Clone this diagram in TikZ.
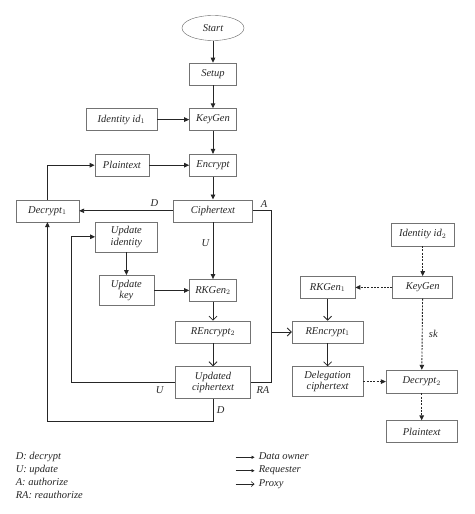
\documentclass[tikz,border=0pt]{standalone}
\usepackage{fontspec}
\setmainfont{Liberation Serif}
\usepackage{xcolor}
\usetikzlibrary{shapes.geometric, positioning, arrows.meta}

\begin{document}
\begin{tikzpicture}[
    node distance=22pt and 32pt,
    every node/.style={font=\fontsize{10.5}{11.5}\selectfont\itshape, text=black!85},
    term/.style={ellipse, draw=black!60, minimum width=62pt, minimum height=25pt, inner sep=1pt},
    block/.style={rectangle, draw=black!55, line width=0.6pt, align=center, minimum width=47pt, minimum height=22pt, inner sep=2pt},
    keyitem/.style={inner sep=0pt, text height=7pt, text depth=3pt, anchor=north west},
    owner/.style={-{Triangle[length=5pt, width=4.5pt]}, line width=0.9pt, black!85},
    requester/.style={-{Triangle[length=5pt, width=4.5pt]}, line width=0.9pt, black!85, dash pattern=on 2pt off 1.3pt},
    proxy/.style={-{Straight Barb[length=4pt, width=8pt]}, line width=0.8pt, black!85},
    plain/.style={line width=0.8pt, black!85}
]
\useasboundingbox (-213pt,28pt) rectangle (261pt,-486pt);

% data owner column
\node[term] (start) {Start};
\node[block, below=22pt of start] (setup) {Setup};
\node[block, below=23pt of setup] (keygen) {KeyGen};
\node[block, left=32pt of keygen, minimum width=71pt] (idone) {Identity id$_1$};
\node[block, below=23pt of keygen] (encrypt) {Encrypt};
\node[block, left=40pt of encrypt, minimum width=54pt] (plainone) {Plaintext};
\node[block, below=23pt of encrypt, minimum width=79pt] (cipher) {Ciphertext};
\node[block, left=94pt of cipher, minimum width=63pt] (decone) {Decrypt$_1$};
\node[block, below=57pt of cipher] (rkgentwo) {RKGen$_2$};
\node[block, left=35pt of rkgentwo, minimum width=55pt, minimum height=30pt] (updkey) {Update\\key};
\node[block, above=23pt of updkey, minimum width=62pt, minimum height=30pt] (updid) {Update\\identity};
\node[block, below=19pt of rkgentwo, minimum width=75pt] (rencrtwo) {REncrypt$_2$};
\node[block, below=23pt of rencrtwo, minimum width=75pt, minimum height=32pt] (updcipher) {Updated\\ciphertext};

% requester and proxy side
\node[block, right=41pt of rencrtwo, minimum width=71pt] (rencrone) {REncrypt$_1$};
\node[block, below=23pt of rencrone, minimum width=71pt, minimum height=30pt] (delcipher) {Delegation\\ciphertext};
\node[block, above=22pt of rencrone, minimum width=55pt] (rkgenone) {RKGen$_1$};
\node[block, right=37pt of rkgenone, minimum width=60pt] (keygentwo) {KeyGen};
\node[block, above=30pt of keygentwo, minimum width=63pt, minimum height=23pt] (idtwo) {Identity id$_2$};
\node[block, right=22.5pt of delcipher, minimum width=71pt, minimum height=23pt] (dectwo) {Decrypt$_2$};
\node[block, below=27pt of dectwo, minimum width=71pt] (plaintwo) {Plaintext};
\coordinate[left=20pt of rencrone.west] (joint);

% legend
\node[align=left, inner sep=0pt, below=230pt of decone.south west, anchor=north west,
      font=\fontsize{10.5}{13}\selectfont\itshape] (keytext)
      {D: decrypt\\U: update\\A: authorize\\RA: reauthorize};
\node[keyitem, right=243pt of keytext.north west, anchor=north west] (lgowner) {Data owner};
\node[keyitem, below=3pt of lgowner.south west, anchor=north west] (lgreq) {Requester};
\node[keyitem, below=3pt of lgreq.south west, anchor=north west] (lgproxy) {Proxy};

\draw[owner] (start) -- (setup);
\draw[owner] (setup) -- (keygen);
\draw[owner] (idone) -- (keygen);
\draw[owner] (keygen) -- (encrypt);
\draw[owner] (plainone) -- (encrypt);
\draw[owner] (encrypt) -- (cipher);
\draw[owner] (cipher) -- node[above, pos=0.2] {D} (decone);
\draw[owner] (cipher) -- node[left, pos=0.37] {U} (rkgentwo);
\draw[owner] (decone) |- (plainone);
\draw[owner] (updid) -- (updkey);
\draw[owner] (updkey) -- (rkgentwo);
\draw[proxy] (rkgentwo) -- (rencrtwo);
\draw[proxy] (rencrtwo) -- (updcipher);
\draw[owner] (updcipher.west) -- node[below, pos=0.15] {U} ++(-104pt,0) |- (updid.west);
\draw[owner] (updcipher.south) -- node[right, pos=0.5] {D} ++(0,-23pt) -| (decone.south);
\draw[plain] (cipher.east) -| node[above, pos=0.3] {A} (joint);
\draw[proxy] (updcipher.east) -| node[below, pos=0.29] {RA} (joint) -- (rencrone.west);

\draw[proxy] (rkgenone) -- (rencrone);
\draw[proxy] (rencrone) -- (delcipher);
\draw[requester] (idtwo) -- (keygentwo);
\draw[requester] (keygentwo) -- (rkgenone);
\draw[requester] (keygentwo) -- node[right, pos=0.5, xshift=3pt] {sk} (dectwo);
\draw[requester] (delcipher) -- (dectwo);
\draw[requester] (dectwo) -- (plaintwo);

\draw[line width=0.6pt, black!85, -{Triangle[length=3pt, width=3pt]}] ([xshift=-23pt]lgowner.west) -- ([xshift=-4pt]lgowner.west);
\draw[line width=0.6pt, black!85, -{Triangle[length=3pt, width=3pt]}] ([xshift=-23pt]lgreq.west) -- ([xshift=-4pt]lgreq.west);
\draw[line width=0.6pt, black!85, -{Straight Barb[length=3pt, width=5pt]}] ([xshift=-23pt]lgproxy.west) -- ([xshift=-4pt]lgproxy.west);
\end{tikzpicture}
\end{document}
